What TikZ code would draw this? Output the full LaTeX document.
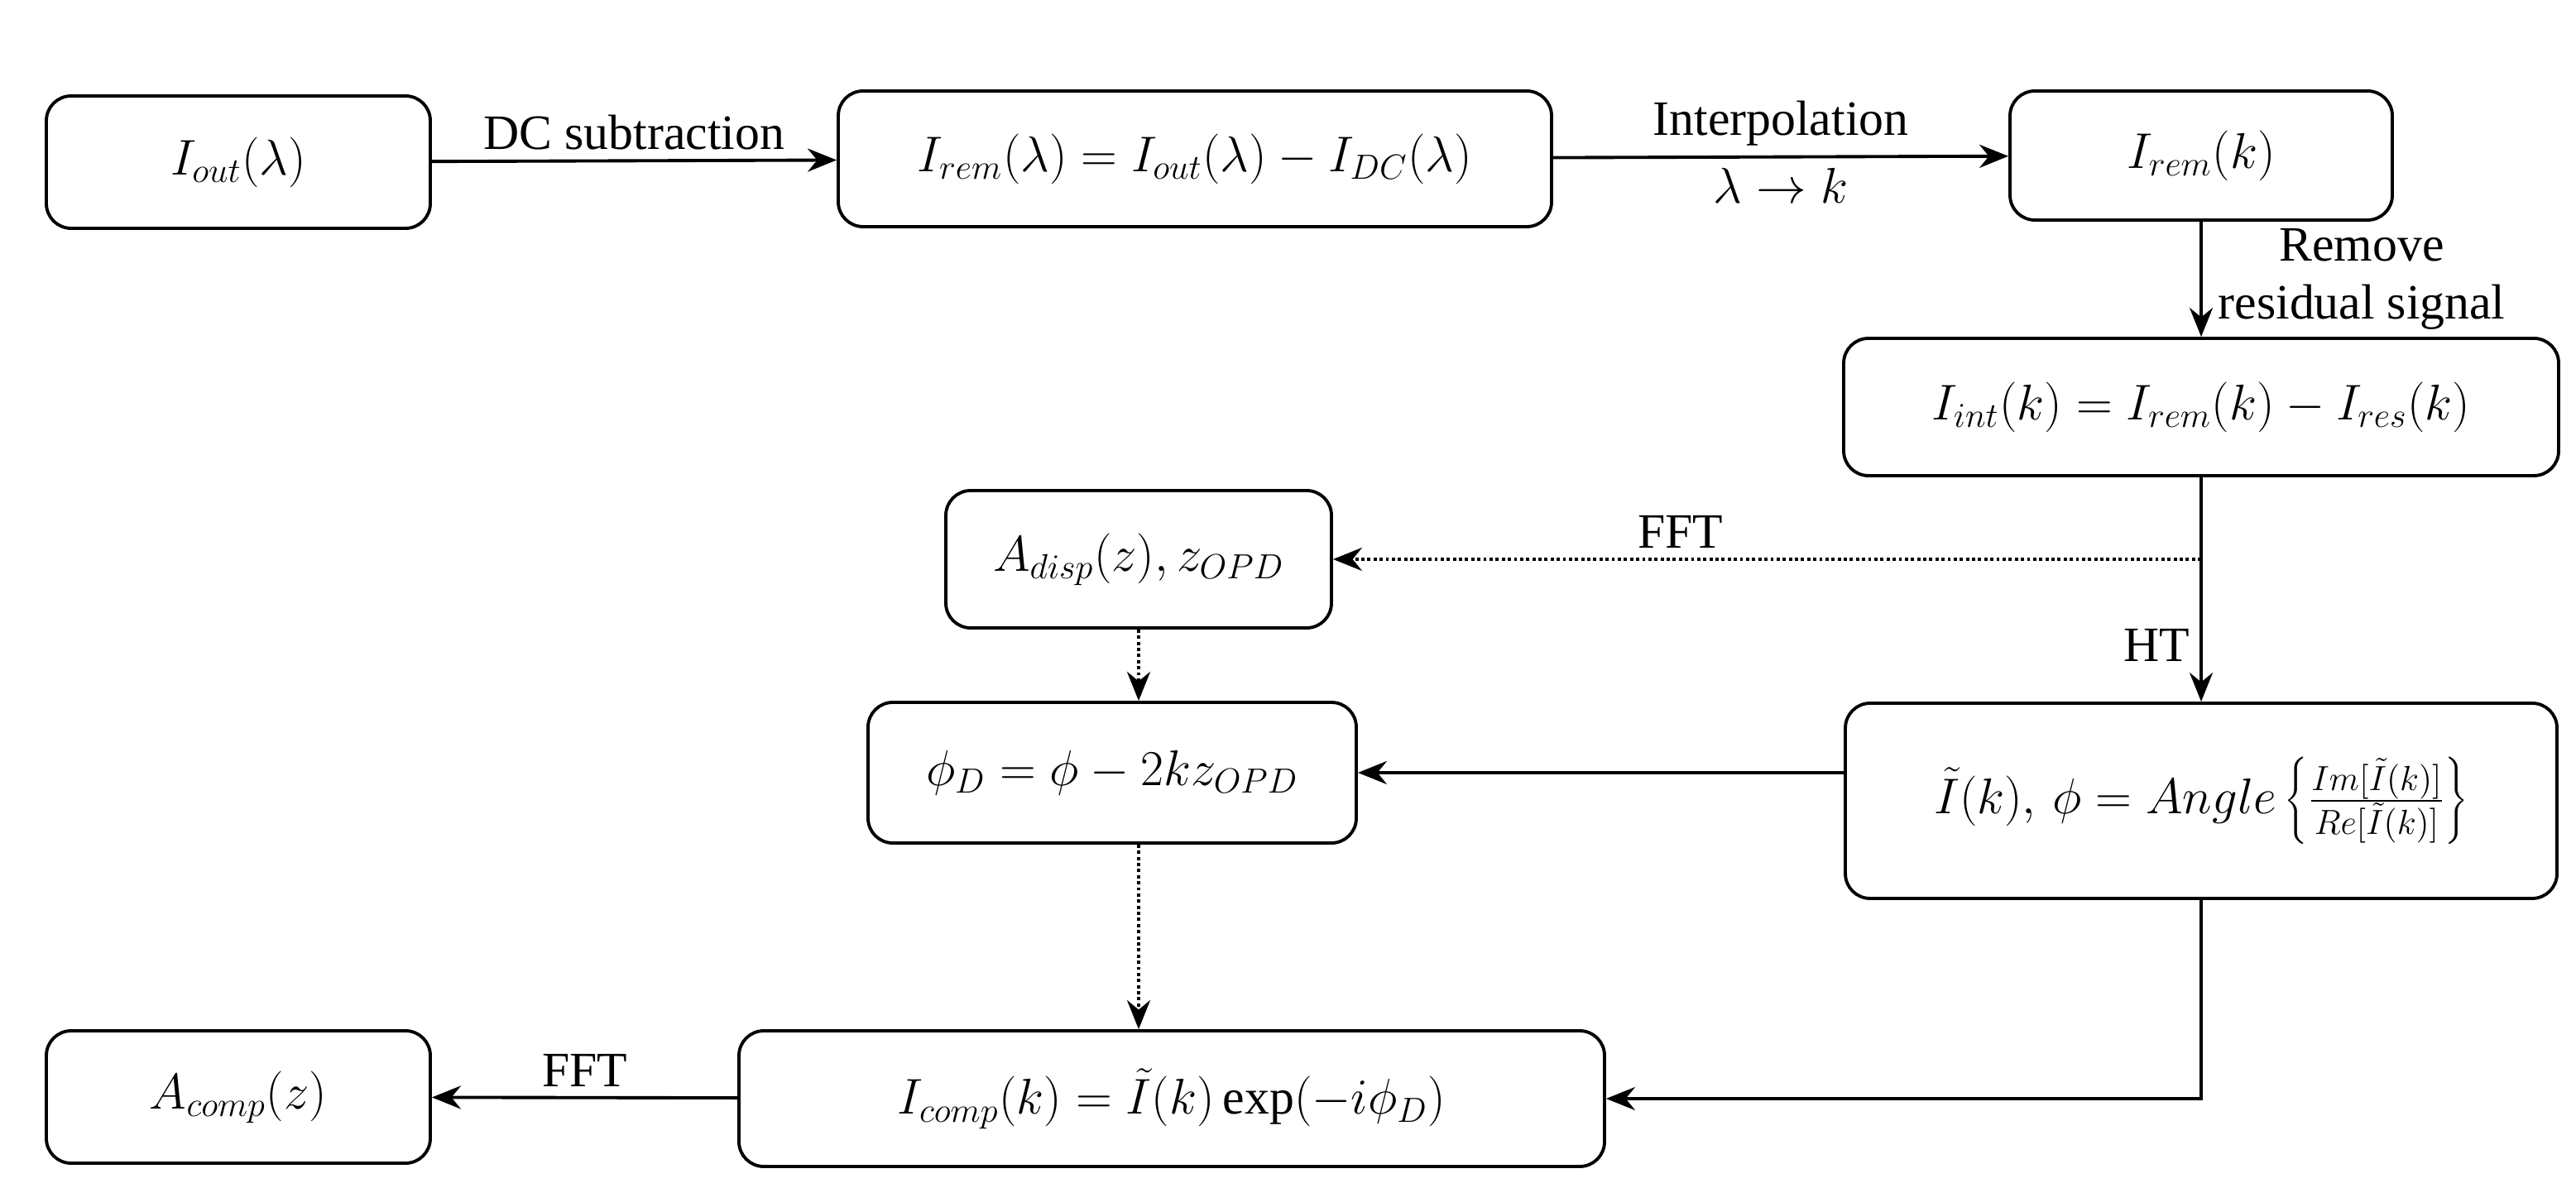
\documentclass[tikz,border=0pt]{standalone}
\usepackage{fontspec}
\setmainfont{Liberation Serif}
\usetikzlibrary{arrows.meta}

\tikzset{
  box/.style={draw, rounded corners=0.3cm, line width=1.1pt, align=center,
    inner sep=0pt, font=\rmfamily\fontsize{17}{20}\selectfont},
  flow/.style={line width=1.1pt, -{Stealth[length=0.35cm,width=0.28cm]}},
  dflow/.style={flow, densely dotted},
  lbl/.style={font=\rmfamily\fontsize{17}{20}\selectfont}
}

\begin{document}
\begin{tikzpicture}
\useasboundingbox (0,0) rectangle (31.13,14.35);

% boxes
\node[box, minimum width=4.64cm, minimum height=1.6cm] (iout) at (2.88,12.39) {$I_{out}(\lambda)$};
\node[box, minimum width=8.62cm, minimum height=1.64cm] (iremlam) at (14.44,12.43) {$I_{rem}(\lambda)=I_{out}(\lambda)-I_{DC}(\lambda)$};
\node[box, minimum width=4.62cm, minimum height=1.56cm] (iremk) at (26.6,12.47) {$I_{rem}(k)$};
\node[box, minimum width=8.64cm, minimum height=1.66cm] (iint) at (26.6,9.43) {$I_{int}(k)=I_{rem}(k)-I_{res}(k)$};
\node[box, minimum width=4.66cm, minimum height=1.66cm] (adisp) at (13.76,7.59) {$A_{disp}(z),z_{OPD}$};
\node[box, minimum width=5.9cm, minimum height=1.7cm] (phid) at (13.44,5.01) {$\phi_D=\phi-2kz_{OPD}$};
\node[box, minimum width=8.6cm, minimum height=2.36cm] (itil) at (26.6,4.67) {$\tilde{I}(k),\,\phi=Angle\left\{\frac{Im[\tilde{I}(k)]}{Re[\tilde{I}(k)]}\right\}$};
\node[box, minimum width=4.64cm, minimum height=1.6cm] (acomp) at (2.88,1.09) {$A_{comp}(z)$};
\node[box, minimum width=10.46cm, minimum height=1.64cm] (icomp) at (14.16,1.07) {$I_{comp}(k)=\tilde{I}(k)\exp(-i\phi_D)$};

% connectors
\draw[flow] (iout) -- node[lbl, above] {DC subtraction} (iremlam);
\draw[flow] (iremlam) -- node[lbl, above] {Interpolation} node[lbl, below] {$\lambda\rightarrow k$} (iremk);
\draw[flow] (iremk) -- node[lbl, right, align=center, xshift=2pt] {Remove\\residual signal} (iint);
\draw[flow] (iint) -- node[lbl, left, pos=0.75] {HT} (itil);
\coordinate (fork) at (iint.south |- adisp.east);
\draw[dflow] (fork) -- node[lbl, above, pos=0.6] {FFT} (adisp);
\draw[dflow] (adisp) -- (adisp |- phid.north);
\draw[flow] (itil.west |- phid.east) -- (phid);
\draw[dflow] (adisp |- phid.south) -- (adisp |- icomp.north);
\draw[flow] (itil.south) -- (itil.south |- icomp.east) -- (icomp);
\draw[flow] (icomp) -- node[lbl, above] {FFT} (acomp);
\end{tikzpicture}
\end{document}
